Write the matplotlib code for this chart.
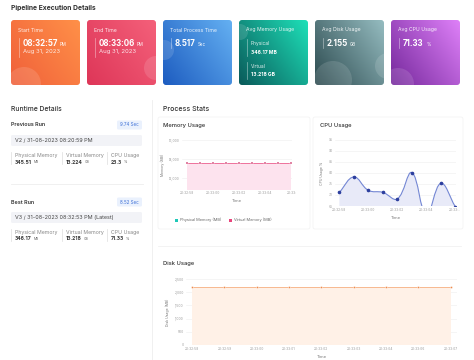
import numpy as np
import matplotlib
matplotlib.use("Agg")
import matplotlib.pyplot as plt
from matplotlib.patches import FancyBboxPatch, Circle, Rectangle, PathPatch
from matplotlib.path import Path
from matplotlib.colors import to_rgb
from matplotlib.ticker import FuncFormatter

plt.rcParams['font.family'] = ['Inter', 'DejaVu Sans']

W, H = 474, 360

# ---- data ----
times = ["20:32:58", "20:32:59", "20:33:00", "20:33:01", "20:33:02",
         "20:33:03", "20:33:04", "20:33:06", "20:33:07"]
virtual_mem = [13535, 13535, 13535, 13535, 13535, 13535, 13535, 13535, 13535]
physical_mem = [346, 346, 346, 346, 346, 346, 346, 346, 346]
cpu_usage = [71.2, 78.2, 72.1, 71.2, 68.2, 80.2, 61.0, 75.3, 64.7]
disk_usage = [2207, 2207, 2207, 2207, 2207, 2207, 2207, 2207, 2207]

card_titles = ["Start Time", "End Time", "Total Process Time",
               "Avg Memory Usage", "Avg Disk Usage", "Avg CPU Usage"]
card_colors = [("#f0603a", "#ff9048"), ("#de3658", "#f4607a"),
               ("#1d5cc0", "#64b0f2"), ("#0a5a5a", "#1ee0b8"),
               ("#2c4a4f", "#95bcc0"), ("#75289c", "#de80f8")]

prev_run = {"badge": "9.74 Sec", "label": "V2 / 31-08-2023 08:20:59 PM",
            "vals": [("345.51", "MB"), ("13.224", "GB"), ("23.3", "%")]}
best_run = {"badge": "8.52 Sec", "label": "V3 / 31-08-2023 08:32:53 PM (Latest)",
            "vals": [("346.17", "MB"), ("13.218", "GB"), ("71.33", "%")]}
run_cols = ["Physical Memory", "Virtual Memory", "CPU Usage"]

fig = plt.figure(figsize=(W / 100, H / 100), dpi=100)
fig.patch.set_facecolor("white")
bg = fig.add_axes([0, 0, 1, 1])
bg.set_xlim(0, W)
bg.set_ylim(H, 0)
bg.axis("off")


def add_ax(x0, y0, x1, y1):
    return fig.add_axes([x0 / W, 1 - y1 / H, (x1 - x0) / W, (y1 - y0) / H])


def after(t, s, size, color, weight="normal", dx=1.2):
    return bg.annotate(s, xy=(1, 0), xycoords=t, xytext=(dx, 0.3),
                       textcoords="offset points", fontsize=size, color=color,
                       weight=weight, va="bottom", ha="left", zorder=3)


# ---- header ----
bg.text(11, 8, "Pipeline Execution Details", fontsize=4.9, weight="bold",
        color="#333333", va="center")

# ---- cards ----
card_x = [11, 87, 163, 239, 315, 391]
cw, ch, cy = 69, 65, 20
circles = [[(24, 84, 17)], [(156, 68, 12)], [(164, 50, 10)],
           [(240, 32, 8)], [(333, 80, 19), (388, 66, 13)], [(398, 84, 16)]]
for i, x0 in enumerate(card_x):
    c1, c2 = np.array(to_rgb(card_colors[i][0])), np.array(to_rgb(card_colors[i][1]))
    patch = FancyBboxPatch((x0, cy), cw, ch, boxstyle="round,pad=0,rounding_size=3",
                           fc="none", ec="none")
    bg.add_patch(patch)
    u, v = np.meshgrid(np.linspace(0, 1, 80), np.linspace(0, 1, 80))
    t = np.clip(0.6 * u + 0.4 * (1 - v), 0, 1)[..., None]
    img = c1 * (1 - t) + c2 * t
    im = bg.imshow(img, extent=(x0, x0 + cw, cy + ch, cy), origin="upper",
                   interpolation="bilinear", zorder=1)
    im.set_clip_path(patch)
    for (cx, cyy, r) in circles[i]:
        c = Circle((cx, cyy), r, fc="white", alpha=0.13, ec="none", zorder=2)
        bg.add_patch(c)
        c.set_clip_path(patch)
    bg.text(x0 + 7, 30, card_titles[i], fontsize=3.7, color="white", alpha=0.9,
            va="center", zorder=3)

wht = "white"
# start / end
for x0, val, date in [(11, "08:32:57", "Aug 31, 2023"), (87, "08:33:06", "Aug 31, 2023")]:
    bg.plot([x0 + 8, x0 + 8], [38, 57], color=wht, alpha=0.5, lw=0.5, zorder=3)
    t = bg.text(x0 + 12, 43, val, fontsize=5.7, weight="bold", color=wht, va="center", zorder=3)
    after(t, "PM", 3.2, wht)
    bg.text(x0 + 12, 52, date, fontsize=4.3, color=wht, alpha=0.85, va="center", zorder=3)
# total time
bg.plot([171, 171], [38, 48], color=wht, alpha=0.5, lw=0.5, zorder=3)
t = bg.text(175, 43, "8.517", fontsize=5.7, weight="bold", color=wht, va="center", zorder=3)
after(t, "Sec", 3.2, wht)
# memory
bg.plot([247, 247], [39, 56], color=wht, alpha=0.5, lw=0.5, zorder=3)
bg.plot([247, 247], [62, 79], color=wht, alpha=0.5, lw=0.5, zorder=3)
bg.text(251, 43, "Physical", fontsize=3.5, color=wht, alpha=0.85, va="center", zorder=3)
bg.text(251, 52, "346.17 MB", fontsize=3.6, weight="bold", color=wht, va="center", zorder=3)
bg.text(251, 66, "Virtual", fontsize=3.5, color=wht, alpha=0.85, va="center", zorder=3)
bg.text(251, 74.5, "13.218 GB", fontsize=3.6, weight="bold", color=wht, va="center", zorder=3)
# disk
bg.plot([323, 323], [38, 48], color=wht, alpha=0.5, lw=0.5, zorder=3)
t = bg.text(327, 43, "2.155", fontsize=5.7, weight="bold", color=wht, va="center", zorder=3)
after(t, "GB", 3.2, wht)
# cpu
bg.plot([399, 399], [38, 48], color=wht, alpha=0.5, lw=0.5, zorder=3)
t = bg.text(403, 43, "71.33", fontsize=5.7, weight="bold", color=wht, va="center", zorder=3)
after(t, "%", 3.2, wht, dx=2.5)

# ---- runtime details ----
bg.plot([152, 152], [100, 360], color="#eeeeee", lw=0.6)
bg.text(11, 109, "Runtime Details", fontsize=4.9, weight="medium", color="#333333", va="center")


def run_block(y, title, run):
    bg.text(11, y, title, fontsize=3.9, weight="semibold", color="#333333", va="center")
    bg.add_patch(FancyBboxPatch((117, y - 4.5), 25, 9, boxstyle="round,pad=0,rounding_size=1.5",
                                fc="#eaf1fd", ec="none"))
    bg.text(129.5, y, run["badge"], fontsize=3.2, color="#3d6fd6", va="center", ha="center")
    bg.add_patch(FancyBboxPatch((11, y + 10), 131, 11, boxstyle="round,pad=0,rounding_size=1.5",
                                fc="#f2f3f7", ec="none"))
    bg.text(15, y + 15.5, run["label"], fontsize=3.9, color="#444444", va="center")
    for j, xc in enumerate([11, 62, 107]):
        bg.plot([xc, xc], [y + 27, y + 39], color="#dddddd", lw=0.5)
        bg.text(xc + 4, y + 30.5, run_cols[j], fontsize=3.75, color="#888888", va="center")
        tt = bg.text(xc + 4, y + 37, run["vals"][j][0], fontsize=3.6, weight="bold",
                     color="#333333", va="center")
        after(tt, run["vals"][j][1], 2.5, "#666666")


run_block(125, "Previous Run", prev_run)
bg.plot([11, 143], [184, 184], color="#eeeeee", lw=0.6)
run_block(202, "Best Run", best_run)

# ---- process stats ----
bg.text(163, 109, "Process Stats", fontsize=5.0, weight="medium", color="#333333", va="center")
for (x0, x1) in [(158, 310), (313, 463)]:
    bg.add_patch(FancyBboxPatch((x0, 117), x1 - x0, 112, boxstyle="round,pad=0,rounding_size=2",
                                fc="none", ec="#f1f1f1", lw=0.5))
bg.plot([158, 461], [246, 246], color="#f1f1f1", lw=0.6)
bg.text(163, 126, "Memory Usage", fontsize=4.2, weight="medium", color="#333333", va="center")
bg.text(320, 126, "CPU Usage", fontsize=4.2, weight="medium", color="#333333", va="center")
bg.text(163, 263, "Disk Usage", fontsize=4.2, weight="medium", color="#333333", va="center")

# legend for memory
bg.add_patch(Rectangle((175.5, 218.5), 3, 3, fc="#1ec8b8", ec="none"))
bg.text(180.5, 220, "Physical Memory (MB)", fontsize=2.8, color="#666666", va="center")
bg.add_patch(Rectangle((229.5, 218.5), 3, 3, fc="#e8457c", ec="none"))
bg.text(234.5, 220, "Virtual Memory (MB)", fontsize=2.8, color="#666666", va="center")

tick_kw = dict(labelsize=2.35, colors="#999999", length=0, pad=1.5)


def style(ax):
    for s in ax.spines.values():
        s.set_visible(False)
    ax.grid(axis="y", color="#eeeeee", lw=0.4)
    ax.set_axisbelow(True)
    ax.tick_params(**tick_kw)
    ax.patch.set_alpha(0)


x = np.arange(len(times))
comma = FuncFormatter(lambda v, p: f"{int(v):,}")

# memory chart
ax = add_ax(182, 140, 292, 189)
style(ax)
ax.fill_between(x, virtual_mem, 0, color="#fde3ee", lw=0)
ax.plot(x, virtual_mem, color="#e8457c", lw=0.5, marker="s", ms=1.6,
        mfc="#d03a6e", mec="white", mew=0.3)
ax.plot(x, physical_mem, color="#1ec8b8", lw=0.5)
ax.set_ylim(10850, 16000)
ax.set_xlim(-0.4, 8.05)
ax.set_yticks([12000, 14000, 16000])
ax.yaxis.set_major_formatter(comma)
ax.set_xticks(x[::2])
ax.set_xticklabels([times[0], times[2], times[4], times[6], times[8][:6]])
ax.set_ylabel("Memory (MB)", fontsize=2.5, color="#777777", labelpad=3)
ax.set_xlabel("Time", fontsize=3.0, color="#777777", labelpad=3)

# cpu chart
ax = add_ax(335, 140, 456, 206)
style(ax)
ax.set_xlim(-0.3, 8.05)
ax.set_ylim(65, 95)
ax.set_yticks([65, 70, 75, 80, 85, 90, 95])
ax.set_xticks(x[::2])
ax.set_xticklabels([times[0], times[2], times[4], times[6], times[8][:6] + ".."])
ax.set_ylabel("CPU Usage %", fontsize=2.5, color="#777777", labelpad=3)
ax.set_xlabel("Time", fontsize=3.0, color="#777777", labelpad=3)

# smooth curve (Chart.js style tension 0.4), control points in pixel-like space
sx, sy = 14.4, 2.2
P = np.column_stack([x * sx, np.array(cpu_usage) * sy])
n = len(P)
verts, codes = [tuple(P[0])], [Path.MOVETO]
cps = []
for i in range(n):
    p0 = P[max(i - 1, 0)]
    p1 = P[i]
    p2 = P[min(i + 1, n - 1)]
    d01 = np.hypot(*(p1 - p0))
    d12 = np.hypot(*(p2 - p1))
    tot = d01 + d12 if d01 + d12 > 0 else 1
    fa, fb = 0.4 * d01 / tot, 0.4 * d12 / tot
    cps.append((p1 - fa * (p2 - p0), p1 + fb * (p2 - p0)))
for i in range(n - 1):
    verts += [tuple(cps[i][1]), tuple(cps[i + 1][0]), tuple(P[i + 1])]
    codes += [Path.CURVE4] * 3
verts = np.array(verts) / np.array([sx, sy])
line_path = Path(verts, codes)
fill_verts = np.vstack([verts, [[x[-1], 0], [x[0], 0], verts[0]]])
fill_codes = codes + [Path.LINETO, Path.LINETO, Path.CLOSEPOLY]
ax.add_patch(PathPatch(Path(fill_verts, fill_codes), fc="#e8eaf8", ec="none"))
ax.add_patch(PathPatch(line_path, fc="none", ec="#7487d4", lw=0.8))
ax.plot(x, cpu_usage, ls="none", marker="o", ms=1.6, mfc="#2d3f9e", mec="#2d3f9e")

# disk chart
ax = add_ax(186, 279, 457, 345)
style(ax)
ax.fill_between(x, disk_usage, 0, color="#fff1e7", lw=0)
ax.plot(x, disk_usage, color="#f4a26e", lw=0.5, marker="o", ms=1.5,
        mfc="#ee8a4c", mec="white", mew=0.3)
ax.set_xlim(-0.19, 8.2)
ax.set_ylim(0, 2500)
ax.set_yticks([0, 500, 1000, 1500, 2000, 2500])
ax.yaxis.set_major_formatter(comma)
ax.set_xticks(x)
ax.set_xticklabels(times)
ax.set_ylabel("Disk Usage (MB)", fontsize=2.5, color="#777777", labelpad=3)
ax.set_xlabel("Time", fontsize=3.0, color="#777777", labelpad=3)

bg.set_xlim(0, W)
bg.set_ylim(H, 0)
bg.set_aspect("auto")

fig.savefig("out.png", dpi=100, facecolor="white")
